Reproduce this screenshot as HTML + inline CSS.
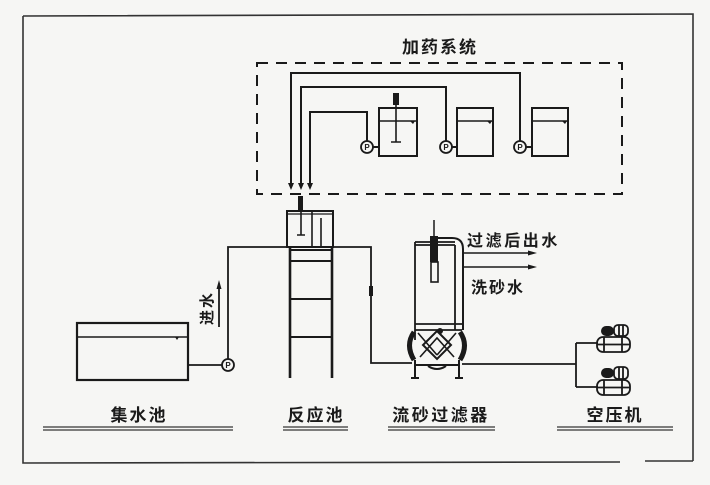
<!DOCTYPE html>
<html><head><meta charset="utf-8"><style>
html,body{margin:0;padding:0;background:#f6f6f4;}
svg{display:block;}
text{font-family:"Liberation Sans","Noto Sans CJK SC","WenQuanYi Zen Hei",sans-serif;fill:#1a1a1a;}
</style></head><body>
<svg width="710" height="485" viewBox="0 0 710 485" xmlns="http://www.w3.org/2000/svg">
<rect width="710" height="485" fill="#f6f6f4"/>
<!-- outer frame -->
<path d="M23 16 L693 14 L693 461 M23 16 L23 463 L620 462 M645 461 L693 461" fill="none" stroke="#333" stroke-width="1.6"/>
<!-- title -->
<text x="440" y="53" font-size="17" font-weight="bold" text-anchor="middle" letter-spacing="2">加药系统</text>
<!-- dashed box -->
<rect x="257" y="63" width="365" height="131" fill="none" stroke="#1a1a1a" stroke-width="2" stroke-dasharray="11 8"/>
<g fill="none" stroke="#1a1a1a" stroke-width="2">
<path d="M291 185 V73 H520 V141"/>
<path d="M301 185 V87 H446 V141"/>
<path d="M310 185 V112 H367 V141"/>
<path d="M373 147 H379 M452 147 H457 M526 147 H532"/>
<rect x="379" y="108" width="38" height="48"/>
<rect x="457" y="108" width="36" height="48"/>
<rect x="532" y="108" width="36" height="48"/>
<path d="M379 121 H417 M457 121 H493 M532 121 H568" stroke-width="1.6"/>
<path d="M396 104 V142 M391 142 H401" stroke-width="1.6"/>
</g>
<rect x="393" y="93" width="6" height="12" fill="#1a1a1a"/>
<path d="M410 121 l3 3 l2 -3z M487 121 l3 3 l2 -3z M562 121 l3 3 l2 -3z" fill="#1a1a1a"/>
<path d="M288 183 l3 7 l3 -7z M298 183 l3 7 l3 -7z M307 183 l3 7 l3 -7z" fill="#1a1a1a"/>
<!-- pumps -->
<g fill="#f6f6f4" stroke="#1a1a1a" stroke-width="1.8">
<circle cx="367" cy="147" r="6"/>
<circle cx="446" cy="147" r="6"/>
<circle cx="520" cy="147" r="6"/>
<circle cx="228" cy="365" r="6"/>
</g>
<g font-size="8" font-weight="bold" text-anchor="middle">
<text x="367" y="150">P</text><text x="446" y="150">P</text><text x="520" y="150">P</text><text x="228" y="368">P</text>
</g>
<!-- collecting tank -->
<rect x="77" y="323" width="111" height="57" fill="none" stroke="#1a1a1a" stroke-width="2.2"/>
<path d="M77 337 H188" stroke="#1a1a1a" stroke-width="1.5"/>
<path d="M175 337 l2 3 l2 -3z" fill="#1a1a1a"/>
<!-- inlet pipe -->
<path d="M188 365 H222 M228 359 V247 H289 M333 247 H371 V363 H412" fill="none" stroke="#1a1a1a" stroke-width="1.8"/>
<rect x="369" y="286" width="4" height="10" fill="#1a1a1a"/>
<path d="M219 327 V287" stroke="#1a1a1a" stroke-width="1.8"/>
<path d="M216.5 289 L219 280 L221.5 289z" fill="#1a1a1a"/>
<text transform="translate(212,308) rotate(-90)" font-size="15" font-weight="bold" text-anchor="middle" letter-spacing="2">进水</text>
<!-- reaction tank -->
<g fill="none" stroke="#1a1a1a">
<rect x="287" y="211" width="46" height="36" stroke-width="2"/>
<path d="M287 214 H333" stroke-width="1.2"/>
<path d="M312 211 V247 M321 218 V247" stroke-width="1.6"/>
<path d="M301 210 V235 M297 235 H305" stroke-width="1.6"/>
<path d="M290 247 V378 M332 247 V378" stroke-width="2.6"/>
<path d="M290 250 H332 M290 261 H332 M290 299 H332 M290 337 H332" stroke-width="2"/>
</g>
<rect x="298" y="196" width="5" height="14" fill="#1a1a1a"/>
<!-- sand filter -->
<g fill="none" stroke="#1a1a1a">
<path d="M415 242 V340 M415 242 H455 M415 245 H455 M455 245 V330 M415 324 H462" stroke-width="1.8"/>
<path d="M434 238 H452 Q463 238 463 249 V330" stroke-width="2"/>
<path d="M434 220 V236" stroke-width="1.5"/>
<rect x="431" y="262" width="7" height="20" stroke-width="1.6"/>
<path d="M415 330 H462" stroke-width="1.8"/>
<path d="M437 331 L451 345 L437 359 L423 345Z" stroke-width="2"/>
<path d="M418 333 L437 355 M456 333 L437 355 M420 357 L437 338 L454 357" stroke-width="1.6"/>
<path d="M414 332 Q405 345 414 360 M460 332 Q469 345 460 360" stroke-width="5"/>
<path d="M415 360 V378 M459 360 V378 M411 378 H419 M455 378 H463 M415 365 H459" stroke-width="2"/>
<path d="M428 366 Q437 372 446 366" stroke-width="2"/>
</g>
<rect x="430" y="236" width="8" height="26" fill="#1a1a1a"/>
<circle cx="440" cy="331" r="3" fill="#1a1a1a"/>
<!-- outlet arrows -->
<path d="M463 253 H530 M463 267 H530" stroke="#1a1a1a" stroke-width="1.5"/>
<path d="M528 250.5 L537 253 L528 255.5z M528 264.5 L537 267 L528 269.5z" fill="#1a1a1a"/>
<text x="467" y="246" font-size="16" font-weight="bold" letter-spacing="2.6">过滤后出水</text>
<text x="471" y="293" font-size="16" font-weight="bold" letter-spacing="2">洗砂水</text>
<!-- filter to compressor -->
<path d="M462 364 H576 M576 343 V387 M576 343 H598 M576 387 H598" fill="none" stroke="#1a1a1a" stroke-width="1.8"/>
<!-- compressors -->
<g fill="none" stroke="#1a1a1a" stroke-width="1.8">
<rect x="597" y="337" width="33" height="15" rx="6"/>
<path d="M604 337 V352 M622 337 V352 M597 344.5 H630"/>
<rect x="614" y="325" width="14" height="11" rx="4"/>
<path d="M619 325 V336 M623 325 V336"/>
<rect x="597" y="380" width="33" height="15" rx="6"/>
<path d="M604 380 V395 M622 380 V395 M597 387.5 H630"/>
<rect x="614" y="367" width="14" height="12" rx="4"/>
<path d="M619 367 V379 M623 367 V379"/>
</g>
<rect x="601" y="326" width="13" height="10" rx="5" fill="#1a1a1a"/>
<rect x="601" y="368" width="13" height="10" rx="5" fill="#1a1a1a"/>
<!-- labels -->
<g font-size="17" font-weight="bold" text-anchor="middle">
<text x="139" y="421" letter-spacing="2">集水池</text>
<text x="316" y="421" letter-spacing="2">反应池</text>
<text x="441" y="421" letter-spacing="2.5">流砂过滤器</text>
<text x="615" y="421" letter-spacing="2">空压机</text>
</g>
<g stroke="#555" stroke-width="1.4">
<path d="M43 427 H233 M43 430 H233"/>
<path d="M283 427 H348 M283 430 H348"/>
<path d="M388 427 H495 M388 430 H495"/>
<path d="M557 427 H673 M557 430 H673"/>
</g>
</svg>
</body></html>
